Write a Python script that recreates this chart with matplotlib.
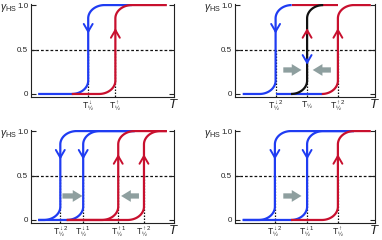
import numpy as np
import matplotlib
matplotlib.use('Agg')
import matplotlib.pyplot as plt

plt.rcParams['font.family'] = ['Liberation Sans', 'DejaVu Sans']
plt.rcParams['mathtext.fontset'] = 'custom'
plt.rcParams['mathtext.rm'] = 'Liberation Sans'
plt.rcParams['mathtext.it'] = 'Liberation Sans:italic'
plt.rcParams['mathtext.bf'] = 'Liberation Sans:bold'

BLUE = '#1f3cf2'
RED = '#c8102e'
BLACK = '#111111'
GREY = '#8e9f9f'

# ---------------- data ----------------
y_ticks = [0, 0.5, 1.0]
y_ticklabels = ['0', '0.5', '1.0']

# panel 1 (top-left)
p1_blue = [4.0]
p1_red = [5.9]
p1_black = []
p1_xt = [4.0, 5.9]
p1_xl = [r'$\mathrm{T}^{\downarrow}_{½}$', r'$\mathrm{T}^{\uparrow}_{½}$']
p1_ends = [0.5, 9.5]
p1_arrows_grey = []

# panel 2 (top-right)
p2_blue = [2.9]
p2_red = [7.35]
p2_black = [5.15]
p2_xt = [2.9, 5.15, 7.35]
p2_xl = [r'$\mathrm{T}^{\downarrow2}_{½}$', r'$\mathrm{T}_{½}$', r'$\mathrm{T}^{\uparrow2}_{½}$']
p2_ends = [0.55, 9.7]
p2_arrows_grey = [(3.45, 4.75), (6.85, 5.55)]

# panel 3 (bottom-left)
p3_blue = [2.05, 3.65]
p3_red = [6.1, 7.9]
p3_black = []
p3_xt = [2.05, 3.65, 6.1, 7.9]
p3_xl = [r'$\mathrm{T}^{\downarrow2}_{½}$', r'$\mathrm{T}^{\downarrow1}_{½}$',
         r'$\mathrm{T}^{\uparrow1}_{½}$', r'$\mathrm{T}^{\uparrow2}_{½}$']
p3_ends = [0.5, 9.5]
p3_arrows_grey = [(2.2, 3.6), (7.55, 6.3)]

# panel 4 (bottom-right)
p4_blue = [2.85, 5.15]
p4_red = [7.35]
p4_black = []
p4_xt = [2.85, 5.15, 7.35]
p4_xl = [r'$\mathrm{T}^{\downarrow2}_{½}$', r'$\mathrm{T}^{\downarrow1}_{½}$', r'$\mathrm{T}^{\uparrow}_{½}$']
p4_ends = [0.55, 9.7]
p4_arrows_grey = [(3.45, 4.75)]

ARROW_Y_BLUE = 0.68
ARROW_Y_RED = 0.74
GREY_Y = 0.27

# ---------------- helpers ----------------
W_C = 1.15   # corner half width (T units)
R_C = 0.15   # corner height (fraction)


def branch(Tc, x0, x1, n=40):
    th = np.linspace(0, np.pi / 2, n)
    xs, ys = [], []
    if x0 < Tc - W_C:
        xs += [x0]; ys += [0]
    xs += list(Tc - W_C + W_C * np.sin(th)); ys += list(R_C - R_C * np.cos(th))
    xs += list(Tc + W_C - W_C * np.cos(th)); ys += list(1 - R_C + R_C * np.sin(th))
    if x1 > Tc + W_C:
        xs += [x1]; ys += [1]
    return np.array(xs), np.array(ys)


def chevron(ax, x, y, up, color):
    dy = -0.06 if up else 0.06
    ax.annotate('', xy=(x, y), xytext=(x, y + dy),
                arrowprops=dict(arrowstyle='->,head_length=0.55,head_width=0.32',
                                color=color, lw=1.4, shrinkA=0, shrinkB=0,
                                mutation_scale=10), zorder=6)


def fat_arrow(ax, x0, x1, y):
    ax.annotate('', xy=(x1, y), xytext=(x0, y),
                arrowprops=dict(arrowstyle='simple,head_length=0.7,head_width=0.85,tail_width=0.38',
                                fc=GREY, ec='none', shrinkA=0, shrinkB=0,
                                mutation_scale=10), zorder=5)


fig = plt.figure(figsize=(3.82, 2.40), dpi=100)
FW, FH = 382.0, 240.0


def make_ax(left, right, top, bottom):
    return fig.add_axes([left / FW, (FH - bottom) / FH, (right - left) / FW, (bottom - top) / FH])


def draw_panel(ax, blue, red, black, xt, xl, ends, greys, closed_outer=False):
    ax.set_xlim(0, 10)
    ax.set_ylim(-0.034, 1.012)
    ax.axhline(0.5, color=BLACK, lw=0.9, ls=(0, (2.2, 1.6)), zorder=1)
    for t in xt:
        ax.plot([t, t], [0.5, -0.034], color=BLACK, lw=0.9, ls=(0, (1.2, 1.2)), zorder=1,
                clip_on=False)
    lw = 1.6
    if closed_outer:
        b = blue[0]; r = red[0]
        x, y = branch(b, ends[0], b + W_C)
        ax.plot(x, y, color=BLUE, lw=lw, zorder=3, solid_capstyle='butt')
        ax.plot([b, r - W_C], [0, 0], color=BLUE, lw=lw, zorder=3, solid_capstyle='butt')
        x, y = branch(r, r - W_C, ends[1])
        ax.plot(x, y, color=RED, lw=lw, zorder=3, solid_capstyle='butt')
        ax.plot([b + W_C, r], [1, 1], color=RED, lw=lw, zorder=3, solid_capstyle='butt')
    else:
        for b in blue:
            x, y = branch(b, ends[0], min(red) + W_C)
            ax.plot(x, y, color=BLUE, lw=lw, zorder=3, solid_capstyle='butt')
        for r in red:
            x, y = branch(r, max(blue) - W_C, ends[1])
            ax.plot(x, y, color=RED, lw=lw, zorder=3, solid_capstyle='butt')
    for k in black:
        x, y = branch(k, k - W_C, k + W_C)
        ax.plot(x, y, color=BLACK, lw=lw, zorder=4, solid_capstyle='butt')
        chevron(ax, k, ARROW_Y_RED, True, RED)
        chevron(ax, k, 0.33, False, BLUE)
    for b in blue:
        chevron(ax, b, ARROW_Y_BLUE, False, BLUE)
    for r in red:
        chevron(ax, r, ARROW_Y_RED, True, RED)
    for g0, g1 in greys:
        fat_arrow(ax, g0, g1, GREY_Y)

    ax.spines['top'].set_visible(False)
    for s in ['left', 'right', 'bottom']:
        ax.spines[s].set_linewidth(0.8)
        ax.spines[s].set_color('#222222')
    ax.set_yticks(y_ticks)
    ax.set_yticklabels(y_ticklabels)
    ax.tick_params(axis='y', direction='in', length=3.5, width=0.8, left=True, right=True,
                   labelsize=5.8, pad=2, colors='#222222')
    ax.set_xticks(xt)
    ax.set_xticklabels(xl)
    ax.tick_params(axis='x', length=0, labelsize=6.2, pad=1.5, colors='#222222')
    ax.text(-0.1, 0.945, r'$\gamma_{\mathrm{HS}}$', transform=ax.get_yaxis_transform(),
            ha='right', va='baseline', fontsize=7.5, color='#222222')
    ax.text(0.995, -0.09, 'T', transform=ax.transAxes, ha='center', va='center',
            fontsize=9.5, style='italic', color='#222222')


ax1 = make_ax(31, 174, 4, 97)
draw_panel(ax1, p1_blue, p1_red, p1_black, p1_xt, p1_xl, p1_ends, p1_arrows_grey)
ax2 = make_ax(235, 375, 4, 97)
draw_panel(ax2, p2_blue, p2_red, p2_black, p2_xt, p2_xl, p2_ends, p2_arrows_grey, closed_outer=True)
ax3 = make_ax(31, 174, 130, 223)
draw_panel(ax3, p3_blue, p3_red, p3_black, p3_xt, p3_xl, p3_ends, p3_arrows_grey)
ax4 = make_ax(235, 375, 130, 223)
draw_panel(ax4, p4_blue, p4_red, p4_black, p4_xt, p4_xl, p4_ends, p4_arrows_grey)

fig.savefig('out.png', dpi=100)
